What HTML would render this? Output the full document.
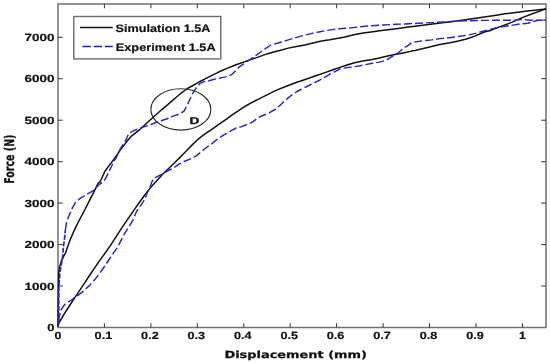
<!DOCTYPE html>
<html><head><meta charset="utf-8"><title>Force vs Displacement</title>
<style>
html,body{margin:0;padding:0;background:#fff;}
svg{display:block;}
text{font-family:"Liberation Sans",Arial,sans-serif;font-weight:bold;fill:#111;stroke:#111;stroke-width:0.18;text-rendering:geometricPrecision;}
</style></head><body>
<svg width="550" height="363" viewBox="0 0 550 363">
<rect x="0" y="0" width="550" height="363" fill="#fff"/>
<rect x="58.0" y="4.0" width="488.0" height="323.5" fill="none" stroke="#707070" stroke-width="1.5"/>
<path d="M104.4 327.5V323.2M104.4 4.0V8.3M150.9 327.5V323.2M150.9 4.0V8.3M197.3 327.5V323.2M197.3 4.0V8.3M243.8 327.5V323.2M243.8 4.0V8.3M290.2 327.5V323.2M290.2 4.0V8.3M336.6 327.5V323.2M336.6 4.0V8.3M383.1 327.5V323.2M383.1 4.0V8.3M429.5 327.5V323.2M429.5 4.0V8.3M476.0 327.5V323.2M476.0 4.0V8.3M522.4 327.5V323.2M522.4 4.0V8.3M58.0 286.0H62.8M546.0 286.0H541.2M58.0 244.6H62.8M546.0 244.6H541.2M58.0 203.1H62.8M546.0 203.1H541.2M58.0 161.7H62.8M546.0 161.7H541.2M58.0 120.2H62.8M546.0 120.2H541.2M58.0 78.7H62.8M546.0 78.7H541.2M58.0 37.3H62.8M546.0 37.3H541.2" stroke="#333" stroke-width="1" fill="none"/>
<polyline points="58.1,324.5 65,312.73 70,304.98 75,297.42 80,289.88 85,282.3 90,274.73 95,267.3 100,260.17 105,253.23 110,246.06 115,238.43 120,230.61 125,223.07 130,215.8 135,208.6 140,201.5 145,194.73 150,188.38 153.3,184.48 158.3,178.96 162.4,174.55 166.5,170.44 170.7,166.45 174.8,162.46 179.5,157.87 184.1,153.25 188.6,148.53 193.2,143.85 195.9,141.26 199.5,138.1 202,136.15 206.5,132.98 211.1,129.78 215.6,126.64 220.2,123.47 224.7,120.34 227.5,118.33 232.5,114.64 237.1,111.53 241.6,108.59 246.2,105.73 250.7,103.13 255.3,100.72 258,99.38 265,95.9 276,90.41 287,86 298.1,81.7 300,81.17 308,78.49 316.5,75.51 325,72.6 333,69.79 341.3,66.87 346.3,65.3 354.5,62.8 362.8,61.1 372,59.5 378.3,58.2 386.5,56.31 394.8,54.6 403.3,52.89 411.5,51.11 415,50.6 423.3,48.6 431.5,46.5 439.8,44.4 450,42.7 458.3,41.1 466.5,39 474.8,36.1 485,31.8 489.6,30.7 500,26.63 505,24.99 511.5,22.39 521.7,17.9 533,13.5 546,8.9" fill="none" stroke="#111" stroke-width="1.5" stroke-linejoin="round"/>
<polyline points="58,327 58.2,305 58.5,285 58.8,272.3 59.5,267.4 61.3,261.1 63.8,256 65.5,253.1 67.7,246.44 70.4,239.32 74.2,230.36 78,222.6 83.5,212.24 89.2,201.19 93.8,192.13 98.2,183.11 100,182 103,175.5 104.8,171.5 109.2,165.4 113.6,159.7 117.1,154.8 120.2,150 122.4,147.3 126.8,141.6 131.2,136.3 135.6,132.8 140,129.3 144.4,125.2 148.8,121.2 153.2,117.2 157.7,113.2 162.1,109.3 166.5,105.7 170,102.6 176,97.51 181.5,92.78 187,88.75 192.5,85.76 198.1,82.62 200,81.52 205.5,78.62 211,75.89 216.5,73.11 222,70.45 227.5,68.13 233.1,65.97 236,64.81 247,60.9 258.1,57.1 266.9,53.91 273.8,51.91 282.5,49.79 288.3,48.12 296.5,46.6 304.8,44.9 313.1,43.1 321.5,41.1 329.8,39.8 338,38.3 343.8,37.3 355,34.6 363.1,33.1 371,31.9 379.6,30.7 390,29.5 396.3,28.7 405,27.5 418.8,25.7 432.5,24 446.3,22.2 455,21.3 468.8,19.3 482.5,17.2 496.3,15.2 505,13.8 513.8,12.7 527.5,11 541.3,9.4 546,8.9" fill="none" stroke="#111" stroke-width="1.5" stroke-linejoin="round"/>
<polyline points="58.8,321 59,317.8 60.2,313.2 61,310 62.7,307.4 64.7,304.5 71.4,300 77.9,295.3 83.4,291.2 89.6,285.4 91.9,282.7 95.7,278.4 99.6,273.4 103,268.5 106.5,263.5 110,258 113.9,252.4 117.7,247 121.6,239.3 124.3,234.2 127.4,228.8 129.7,225.7 133.2,219.6 136.5,211.5 139.7,207 142.8,202.4 145.1,198.5 146.7,193.9 148.6,190 150.5,185.8 151.7,182.3 153.3,179.2 156.6,176.9 161.6,174.4 166.5,171.5 173.1,168.2 178.6,164.3 184.1,161.5 191.4,158.4 195.9,156.1 202.3,151.1 205.6,148 211.1,144.4 216.5,139.8 222,136.2 224.7,134.4 229.3,132.1 231.6,130.3 236.2,128 241.6,126.6 247.1,124.4 252.5,122.1 258.6,117.3 264.1,115 269.5,112.7 275,109.5 280.5,105 285,100.5 291.4,95.3 297,91.5 302.5,88.7 306.9,86.5 310,85 314.5,82.7 319.1,80.5 324.5,77.3 330,74.1 336.4,70.9 340.5,68.5 345.5,67.9 351.9,67 358.8,66 365.7,64.6 372.5,63.2 379.4,62.1 386.3,60.3 391.5,56.9 394.8,54.9 396.7,54 400,51.3 404.1,47.8 408.2,45.3 411.5,42.8 415,41.9 419.8,41.3 423.3,40.7 431.5,39.9 439.8,38.6 448.1,37.8 450,37.8 458.3,36.5 466.5,35.3 474.8,33.6 483.1,31.2 488.3,29.8 496.5,27.8 504.8,26.2 513.1,25.1 519.8,23.9 528,23.3 533,21.6 538,20.4 546,20.3" fill="none" stroke="#2626cc" stroke-width="1.45" stroke-dasharray="8 3" stroke-linejoin="round"/>
<polyline points="58.7,324 58.8,300 58.8,288.5 59.2,282.3 59.7,276 60.1,271.1 61.3,264.9 62.6,257.4 63.3,247.6 64.4,239.8 65.4,230" fill="none" stroke="#2626cc" stroke-width="1.7" stroke-dasharray="5 1.5" stroke-linejoin="round"/>
<polyline points="65.4,230 66.5,222 69.2,215.3 72.5,207.6 75.8,202.1 80.2,198.3 86.9,194.4 93.5,190.6 96.3,187.4 99.5,184.3 103.9,181.3 106.6,176.4 109.2,171.1 111.8,165.8 113.6,161.4 116.2,157.9 118,153 121.5,146.9 125,141.6 126.8,138.1 128.6,133.7 133,131 138.2,128.8 144.4,126.6 145.3,126.5 150.6,124.7 155.9,122.5 161.2,120.7 166.5,119 170,117.6 172.5,116.4 178,114.5 183.8,111.4 187,105.8 189.3,100.5 192.8,93.1 195,89.6 197.2,86.8 200.1,83.4 203.9,81.6 206.6,81.4 214.3,79.2 222,77.6 227.5,76.5 232,74.3 236.4,69.9 240,66.3 250.3,59.4 258.1,53.9 265.4,48.6 271,45 280.7,42.2 288.3,39.9 296.5,37.4 304.8,35.1 313.1,33.1 320,31.8 325.7,30.6 332.5,29.6 339.4,28.8 346.3,28.2 355,27.4 368.8,25.9 382.5,25 396.3,24.3 405,24 418.8,23.2 432.5,22.6 446.3,21.8 455,21.3 468.8,20.7 482.5,20.4 500,20.3 515,20.2 520,19.6 525,19.6 530,20.2 546,20.1" fill="none" stroke="#2626cc" stroke-width="1.45" stroke-dasharray="8 3" stroke-linejoin="round"/>
<text x="54.4" y="331.2" font-size="10.4" text-anchor="end" textLength="7.2" lengthAdjust="spacingAndGlyphs">0</text>
<text x="54.4" y="289.7" font-size="10.4" text-anchor="end" textLength="30.0" lengthAdjust="spacingAndGlyphs">1000</text>
<text x="54.4" y="248.3" font-size="10.4" text-anchor="end" textLength="30.0" lengthAdjust="spacingAndGlyphs">2000</text>
<text x="54.4" y="206.8" font-size="10.4" text-anchor="end" textLength="30.0" lengthAdjust="spacingAndGlyphs">3000</text>
<text x="54.4" y="165.4" font-size="10.4" text-anchor="end" textLength="30.0" lengthAdjust="spacingAndGlyphs">4000</text>
<text x="54.4" y="123.9" font-size="10.4" text-anchor="end" textLength="30.0" lengthAdjust="spacingAndGlyphs">5000</text>
<text x="54.4" y="82.4" font-size="10.4" text-anchor="end" textLength="30.0" lengthAdjust="spacingAndGlyphs">6000</text>
<text x="54.4" y="41.0" font-size="10.4" text-anchor="end" textLength="30.0" lengthAdjust="spacingAndGlyphs">7000</text>
<text x="58.0" y="338.9" font-size="10.4" text-anchor="middle" textLength="6.9" lengthAdjust="spacingAndGlyphs">0</text>
<text x="103.4" y="338.9" font-size="10.4" text-anchor="middle" textLength="17.6" lengthAdjust="spacingAndGlyphs">0.1</text>
<text x="149.9" y="338.9" font-size="10.4" text-anchor="middle" textLength="17.6" lengthAdjust="spacingAndGlyphs">0.2</text>
<text x="196.3" y="338.9" font-size="10.4" text-anchor="middle" textLength="17.6" lengthAdjust="spacingAndGlyphs">0.3</text>
<text x="242.8" y="338.9" font-size="10.4" text-anchor="middle" textLength="17.6" lengthAdjust="spacingAndGlyphs">0.4</text>
<text x="289.2" y="338.9" font-size="10.4" text-anchor="middle" textLength="17.6" lengthAdjust="spacingAndGlyphs">0.5</text>
<text x="335.6" y="338.9" font-size="10.4" text-anchor="middle" textLength="17.6" lengthAdjust="spacingAndGlyphs">0.6</text>
<text x="382.1" y="338.9" font-size="10.4" text-anchor="middle" textLength="17.6" lengthAdjust="spacingAndGlyphs">0.7</text>
<text x="428.5" y="338.9" font-size="10.4" text-anchor="middle" textLength="17.6" lengthAdjust="spacingAndGlyphs">0.8</text>
<text x="475.0" y="338.9" font-size="10.4" text-anchor="middle" textLength="17.6" lengthAdjust="spacingAndGlyphs">0.9</text>
<text x="522.4" y="338.9" font-size="10.4" text-anchor="middle" textLength="6.9" lengthAdjust="spacingAndGlyphs">1</text>
<text x="295.7" y="357.6" font-size="9.9" style="font-family:'DejaVu Sans',sans-serif;stroke:#111;stroke-width:0.25" text-anchor="middle" textLength="142.5" lengthAdjust="spacingAndGlyphs">Displacement (mm)</text>
<text transform="translate(14.1 159.2) scale(1.3 1) rotate(-90)" font-size="10.3" style="font-family:'DejaVu Sans',sans-serif;stroke:#111;stroke-width:0.25" text-anchor="middle" textLength="49.3" lengthAdjust="spacingAndGlyphs">Force (N)</text>
<ellipse cx="180.85" cy="109.45" rx="30.0" ry="20.7" fill="none" stroke="#2a2a2a" stroke-width="1.15"/>
<text x="189.5" y="123.5" font-size="10" textLength="9.8" style="stroke:#111;stroke-width:0.3" lengthAdjust="spacingAndGlyphs">D</text>
<rect x="73.8" y="16.5" width="147" height="42.4" fill="#fff" stroke="#6b6b6b" stroke-width="1.4"/>
<line x1="79.9" y1="27.6" x2="112.7" y2="27.6" stroke="#111" stroke-width="1.5"/>
<line x1="82.5" y1="46.5" x2="112.8" y2="46.5" stroke="#2020b0" stroke-width="1.45" stroke-dasharray="8.3 2.9"/>
<text x="115.5" y="31.7" font-size="10.8" textLength="95" lengthAdjust="spacingAndGlyphs">Simulation 1.5A</text>
<text x="115.8" y="50.5" font-size="10.8" textLength="99.8" lengthAdjust="spacingAndGlyphs">Experiment 1.5A</text>
</svg>
</body></html>
